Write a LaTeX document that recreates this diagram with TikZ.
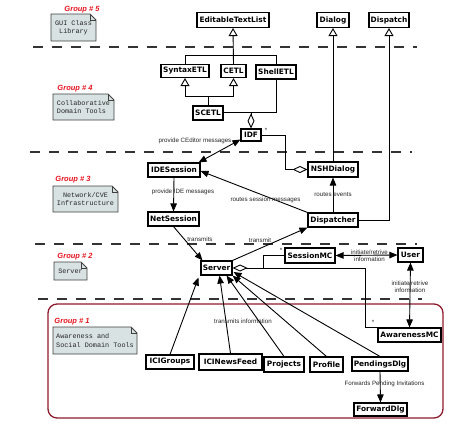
\documentclass[tikz,border=0pt]{standalone}
\usepackage{fontspec}
\setmainfont{DejaVu Sans}
\newfontfamily\lblfamily{Liberation Sans}
\newfontfamily\notefamily{Liberation Mono}
\usetikzlibrary{arrows.meta,calc}
\newcommand\clsfont{\fontsize{7.4}{8}\selectfont\bfseries}
\newcommand\lblfont{\lblfamily\fontsize{6.2}{7}\selectfont}
\newcommand\notefont{\notefamily\fontsize{6.8}{8.5}\selectfont}
\newcommand\grpfont{\lblfamily\fontsize{7.5}{8}\selectfont\bfseries\itshape}
\definecolor{notefill}{HTML}{D8E2E2}
\definecolor{grpred}{HTML}{E8141E}
\definecolor{frame}{HTML}{8E1B2C}
\newcommand\notebox[4]{%
  \fill[notefill] (#1,#2) -- (#3-6,#2) -- (#3,#2+6) -- (#3,#4) -- (#1,#4) -- cycle;
  \draw[line width=0.9pt,black!75] (#1,#2) -- (#3-6,#2) -- (#3,#2+6) -- (#3,#4) -- (#1,#4) -- cycle;
  \draw[line width=0.6pt,black!75] (#3-6,#2) -- (#3-6,#2+6) -- (#3,#2+6);}
\begin{document}
\begin{tikzpicture}[x=1pt,y=-1pt,
  cls/.style={draw=black, line width=1.1pt, fill=white, font=\clsfont, inner sep=1pt, minimum height=14pt},
  lbl/.style={font=\lblfont, text=black!85, inner sep=0pt, align=center},
  grp/.style={font=\grpfont, text=grpred, inner sep=0pt},
  note/.style={font=\notefont, text=black!85, inner sep=0pt},
  conn/.style={line width=0.9pt, draw=black},
  arr/.style={conn, -{Triangle[length=8pt,width=6.5pt]}},
  darr/.style={conn, {Triangle[length=8pt,width=6.5pt]}-{Triangle[length=8pt,width=6.5pt]}},
  gen/.style={conn, -{Triangle[open,length=8pt,width=9pt,fill=white]}},
  aggs/.style={conn, {Diamond[open,length=15pt,width=7pt,fill=white]}-},
  aggt/.style={conn, -{Diamond[open,length=15pt,width=7pt,fill=white]}},
  sep/.style={line width=1.6pt, draw=black!80, dash pattern=on 10pt off 9pt}]
\useasboundingbox (0,0) rectangle (474,424);
\fill[white] (0,0) rectangle (474,424);

% separators
\draw[sep] (33,47) -- (417,47);
\draw[sep] (30,152) -- (412,152);
\draw[sep] (35,244) -- (417,244);
\draw[sep] (38,299) -- (422,299);

% group 1 frame
\draw[frame, line width=1.3pt, rounded corners=9pt] (48,304) rectangle (443,418);

% groups and notes
\node[grp] (g5) at (82,10) {Group \# 5};
\notebox{51}{14}{96}{41}
\node[note, align=center] (n5) at (73.5,27.5) {GUI Class\\Library};
\node[grp] (g4) at (75,89) {Group \# 4};
\notebox{53}{94}{114}{120}
\node[note, align=left] (n4) at (83.5,107) {Collaborative\\Domain Tools};
\node[grp] (g3) at (73,180) {Group \# 3};
\notebox{53}{186}{118}{212}
\node[note, align=center] (n3) at (85.5,199) {Network/CVE\\Infrastructure};
\node[grp] (g2) at (75,257) {Group \# 2};
\notebox{54}{262}{87}{280}
\node[note] (n2) at (70.5,271) {Server};
\node[grp] (g1) at (72,322) {Group \# 1};
\notebox{53}{327}{137}{354}
\node[note, align=left] (n1) at (95,340.5) {Awareness and\\Social Domain Tools};

% classes
\node[cls, minimum width=72pt, minimum height=15pt] (etl) at (233,20) {EditableTextList};
\node[cls, minimum width=32pt, minimum height=15pt] (dialog) at (333,20) {Dialog};
\node[cls, minimum width=40pt, minimum height=15pt] (dispatch) at (389,20) {Dispatch};
\node[cls, minimum width=48pt, minimum height=13pt] (syn) at (185,71) {SyntaxETL};
\node[cls, minimum width=25pt, minimum height=13pt] (cetl) at (233.5,71) {CETL};
\node[cls, minimum width=40pt] (shell) at (276,72) {ShellETL};
\node[cls, minimum width=30pt] (scetl) at (208,113) {SCETL};
\node[cls, minimum width=20pt, minimum height=12pt] (idf) at (251,135) {IDF};
\node[cls, minimum width=52pt] (ides) at (174,170) {IDESession};
\node[cls, minimum width=50pt, minimum height=15pt] (nsh) at (333,169.5) {NSHDialog};
\node[cls, minimum width=51pt] (nets) at (173.5,219) {NetSession};
\node[cls, minimum width=50pt] (disp) at (333,220) {Dispatcher};
\node[cls, minimum width=31pt] (server) at (216.5,268) {Server};
\node[cls, minimum width=50pt, minimum height=15pt] (smc) at (310,255.5) {SessionMC};
\node[cls, minimum width=25pt] (user) at (410.5,255) {User};
\node[cls, minimum width=63pt] (amc) at (409.5,335) {AwarenessMC};
\node[cls, minimum width=48pt] (icig) at (170,362) {ICIGroups};
\node[cls, minimum width=63pt, minimum height=16pt] (icin) at (230.5,362) {ICINewsFeed};
\node[cls, minimum width=40pt, minimum height=15pt] (proj) at (284,364.5) {Projects};
\node[cls, minimum width=33pt, minimum height=15pt] (prof) at (326.5,364.5) {Profile};
\node[cls, minimum width=56pt] (pend) at (380,364) {PendingsDlg};
\node[cls, minimum width=53pt, minimum height=13pt] (fwd) at (380.5,409.5) {ForwardDlg};

% GUI hierarchy
\coordinate (j1) at (185,96);
\coordinate (j2) at (233.5,96);
\coordinate (t1) at (185,55);
\coordinate (t2) at (276,55);
\coordinate (b2) at (276,112);
\draw[gen] (cetl.north) -- (etl.south);
\draw[gen] (j1) -- (syn.south);
\draw[gen] (j2) -- (cetl.south);
\draw[conn] (j1) -- (j2);
\draw[conn] (scetl.north) -- (scetl.north |- j1);
\draw[conn] (syn.north) -- (t1) -- (t2) -- (shell.north);
\draw[conn] (shell.south) -- (b2) -- (b2 -| scetl.east);
\draw[aggs] (idf.north) -- (idf.north |- b2);

% IDF to NSHDialog
\coordinate (k1) at (285,135);
\draw[aggt] (idf.east) -- (k1) |- (nsh.west);
\node[lbl] (s1) at (266,130) {*};

% Dialog / Dispatch generalisations
\draw[gen] (nsh.north) -- (dialog.south);
\draw[gen] (disp.east) -| (dispatch.south);

% messages
\draw[arr] (disp.north) -- (nsh.south);
\node[lbl] (l1) at (333,194.5) {routes events};
\draw[darr] ($(idf.south west)+(0,-2)$) -- ($(ides.north east)+(-2,0)$);
\node[lbl] (l2) at (195,141) {provide CEditor messages};
\draw[arr] (disp.north west) -- ($(ides.east)+(0,1)$);
\node[lbl] (l3) at (265.5,200) {routes session messages};
\draw[arr] (ides.south) -- (nets.north);
\node[lbl] (l4) at (183,192) {provide IDE messages};
\draw[arr] (nets.south) -- ($(server.north west)+(2,0)$);
\node[lbl] (l5) at (200,239) {transmits};
\draw[arr] (server.north east) -- (disp.south west);
\node[lbl] (l6) at (260,240) {transmit};

% server aggregations
\coordinate (a1) at (263,268);
\coordinate (a2) at (365,268);
\coordinate (a3) at (365,327);
\draw[aggs] (server.east) -- (a2) -- (a3) -- (a3 -| amc.west);
\draw[conn] (a1) |- (smc.west);
\node[lbl] (s2) at (281,250) {*};
\node[lbl] (s3) at (373,322) {*};
\draw[darr] (smc.east) -- (user.west);
\node[lbl] (l7) at (369.5,255.5) {initiate/retrive\\information};
\draw[darr] (user.south) -- (amc.north);
\node[lbl] (l8) at (410,287) {initiate/retrive\\information};

% group 1 to server
\draw[arr] (icig.north) -- ($(server.south west)+(-2,2)$);
\draw[arr] (icin.north) -- ($(server.south)+(3,0)$);
\draw[arr] (proj.north) -- ($(server.south east)+(-6,0)$);
\draw[arr] (prof.north) -- ($(server.south east)+(0,0)$);
\draw[arr] (pend.north) -- ($(server.east)+(1,4)$);
\node[lbl] (l9) at (243,321) {transmits information};
\draw[arr] (pend.south) -- (fwd.north);
\node[lbl] (l10) at (384.5,384) {Forwards Pending Invitations};
\end{tikzpicture}
\end{document}
